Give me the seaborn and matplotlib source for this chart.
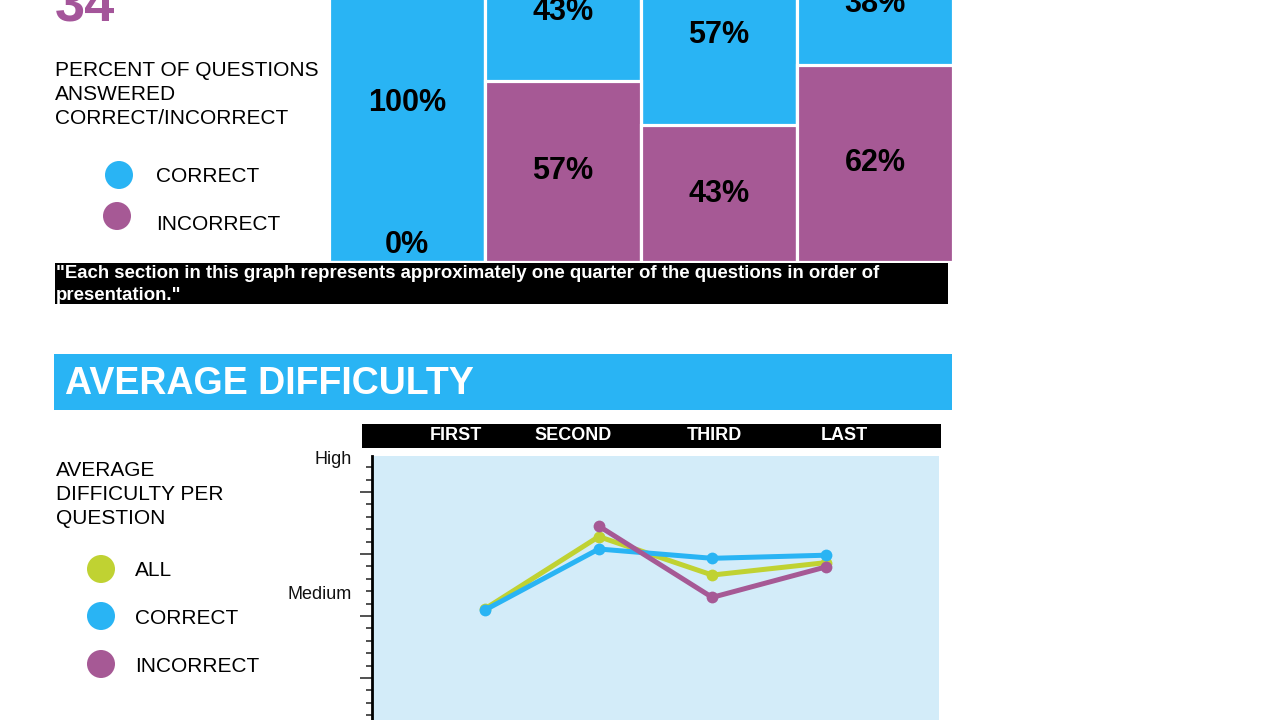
import numpy as np
import pandas as pd
import matplotlib
matplotlib.use("Agg")
import matplotlib.pyplot as plt
from matplotlib.patches import Rectangle, Circle
from matplotlib.ticker import MultipleLocator
import seaborn as sns

# ---------------- data ----------------
quarters = ["FIRST", "SECOND", "THIRD", "LAST"]
pct_correct = [100, 43, 57, 38]
pct_incorrect = [0, 57, 43, 62]

diff_all = [0.12, 1.28, 0.66, 0.86]
diff_correct = [0.10, 1.08, 0.93, 0.98]
diff_incorrect = [np.nan, 1.45, 0.30, 0.79]

level_labels = ["High", "Medium"]
level_values = [2.52, 0.34]

question_count = "34"
caption_lines = ["\"Each section in this graph represents approximately one quarter of the questions in order of",
                 "presentation.\""]

# ---------------- style ----------------
BLUE = "#29b4f4"
PURPLE = "#a65995"
GREEN = "#c0d232"
PLOTBG = "#d3ecf9"

sns.set_theme(style="white")
plt.rcParams["font.family"] = ["Liberation Sans", "DejaVu Sans"]

W, H = 1280, 720
fig = plt.figure(figsize=(12.8, 7.2), dpi=100)
fig.patch.set_facecolor("white")


def axes_px(x0, y0, x1, y1, **kw):
    return fig.add_axes([x0 / W, 1 - y1 / H, (x1 - x0) / W, (y1 - y0) / H], **kw)


# ---------------- top stacked bars ----------------
df_bar = pd.DataFrame({"quarter": quarters,
                       "correct": pct_correct,
                       "incorrect": pct_incorrect})
df_bar["total"] = df_bar["correct"] + df_bar["incorrect"]

bax = axes_px(329, -56, 953, 262)
sns.barplot(data=df_bar, x="quarter", y="total", color=BLUE, saturation=1,
            width=1.0, edgecolor="white", linewidth=2.3, ax=bax)
sns.barplot(data=df_bar, x="quarter", y="incorrect", color=PURPLE, saturation=1,
            width=1.0, edgecolor="white", linewidth=2.3, ax=bax)
bax.set_xlim(-0.5, 3.5)
bax.set_ylim(0, 100)
bax.axis("off")
for i, (c, inc) in enumerate(zip(pct_correct, pct_incorrect)):
    bax.text(i, inc + c / 2, f"{c}%", ha="center", va="center",
             fontsize=22, fontweight="bold", color="black")
    if inc > 0:
        bax.text(i, inc / 2, f"{inc}%", ha="center", va="center",
                 fontsize=22, fontweight="bold", color="black")
    else:
        bax.annotate(f"{inc}%", (i, 0), xytext=(0, 12), textcoords="offset points",
                     ha="center", va="center", fontsize=22, fontweight="bold", color="black")

# ---------------- line chart ----------------
lax = axes_px(372, 456, 939, 740)
lax.set_facecolor(PLOTBG)
x_pos = np.arange(len(quarters))
for vals, col in [(diff_all, GREEN), (diff_correct, BLUE), (diff_incorrect, PURPLE)]:
    d = pd.DataFrame({"x": x_pos, "y": vals}).dropna()
    sns.lineplot(data=d, x="x", y="y", color=col, linewidth=3.6, marker="o",
                 markersize=8.5, markeredgewidth=0, ax=lax)
lax.set_xlim(-1, 4)
lax.set_ylim(-2.0, 2.58)
lax.set_xlabel("")
lax.set_ylabel("")
lax.set_xticks([])
lax.yaxis.set_major_locator(MultipleLocator(1))
lax.yaxis.set_minor_locator(MultipleLocator(0.2))
lax.tick_params(axis="y", which="major", left=True, length=9, width=1.2,
                color="#333333", labelleft=False)
lax.tick_params(axis="y", which="minor", left=True, length=4, width=1.2,
                color="#333333")
for s in ["top", "right", "bottom"]:
    lax.spines[s].set_visible(False)
lax.spines["left"].set_color("black")
lax.spines["left"].set_linewidth(2)
for lab, val in zip(level_labels, level_values):
    lax.text(-0.035, val, lab, transform=lax.get_yaxis_transform(),
             ha="right", va="center", fontsize=13, color="#111111")

# ---------------- overlay (layout decorations) ----------------
ov = fig.add_axes([0, 0, 1, 1], zorder=5)
ov.set_xlim(0, W)
ov.set_ylim(H, 0)
ov.axis("off")
ov.patch.set_alpha(0)

ov.text(55, 21, question_count, color="#a4559a", fontsize=39, fontweight="bold",
        ha="left", va="baseline")

for yy, t in zip([71, 94, 118], ["PERCENT OF QUESTIONS", "ANSWERED", "CORRECT/INCORRECT"]):
    ov.text(55, yy, t, fontsize=15, ha="left", va="center", color="black")

ov.add_patch(Circle((119, 175), 14, color=BLUE, lw=0))
ov.add_patch(Circle((117, 216), 14, color=PURPLE, lw=0))
ov.text(156, 177, "CORRECT", fontsize=15, ha="left", va="center", color="black")
ov.text(156, 224, "INCORRECT", fontsize=15, ha="left", va="center", color="black")

# caption box
ov.add_patch(Rectangle((55, 263), 893, 41, color="black", lw=0))
for yy, t in zip([274, 295], caption_lines):
    ov.text(56, yy, t, fontsize=13.4, fontweight="bold", color="white",
            ha="left", va="center")

# section header
ov.add_patch(Rectangle((54, 354), 898, 56, color=BLUE, lw=0))
ov.text(65, 384, "AVERAGE DIFFICULTY", fontsize=27, fontweight="bold",
        color="white", ha="left", va="center")

# quarter header bar
ov.add_patch(Rectangle((362, 424), 579, 24, color="black", lw=0))
for xx, q in zip([456, 573, 714, 844], quarters):
    ov.text(xx, 436, q, fontsize=13, fontweight="bold", color="white",
            ha="center", va="center")

for yy, t in zip([470, 494, 518], ["AVERAGE", "DIFFICULTY PER", "QUESTION"]):
    ov.text(56, yy, t, fontsize=15, ha="left", va="center", color="black")

for yy, col, t in zip([569, 616, 664], [GREEN, BLUE, PURPLE], ["ALL", "CORRECT", "INCORRECT"]):
    ov.add_patch(Circle((101, yy), 14, color=col, lw=0))
    ov.text(135, yy + 2, t, fontsize=15, ha="left", va="center", color="black")

fig.savefig("out.png", dpi=100)
